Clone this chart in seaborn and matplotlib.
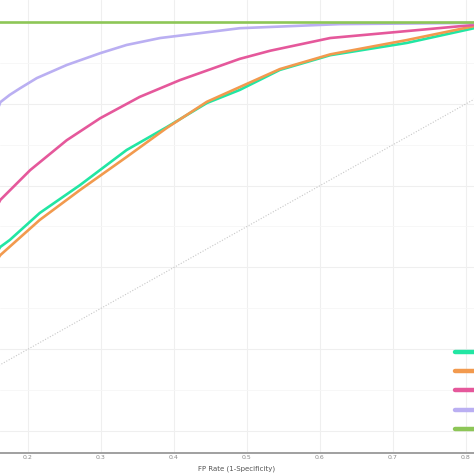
import matplotlib
matplotlib.use("Agg")
import numpy as np
import pandas as pd
import seaborn as sns
from matplotlib import pyplot as plt

# ROC curves (fpr, tpr)
model_names = ["Logistic Regression", "Naive Bayes", "Random Forest", "Gradient Boosting", "Perfect"]
colors = ["#22E6A3", "#F29A4E", "#E5589B", "#BAAFF2", "#8DC657"]

fpr_lr = [0.0, 0.162, 0.175, 0.216, 0.271, 0.335, 0.390, 0.445, 0.490, 0.545, 0.614, 0.719, 0.811, 1.0]
tpr_lr = [0.0, 0.450, 0.467, 0.533, 0.601, 0.687, 0.743, 0.802, 0.834, 0.883, 0.919, 0.949, 0.985, 1.0]

fpr_nb = [0.0, 0.162, 0.216, 0.271, 0.335, 0.390, 0.445, 0.490, 0.545, 0.614, 0.719, 0.811, 1.0]
tpr_nb = [0.0, 0.430, 0.516, 0.589, 0.670, 0.741, 0.805, 0.841, 0.885, 0.921, 0.956, 0.990, 1.0]

fpr_rf = [0.0, 0.162, 0.203, 0.253, 0.299, 0.353, 0.408, 0.490, 0.532, 0.614, 0.719, 0.811, 1.0]
tpr_rf = [0.0, 0.565, 0.638, 0.711, 0.765, 0.817, 0.858, 0.910, 0.930, 0.961, 0.978, 0.993, 1.0]

fpr_gb = [0.0, 0.162, 0.175, 0.189, 0.212, 0.253, 0.299, 0.335, 0.381, 0.436, 0.490, 0.627, 0.811, 1.0]
tpr_gb = [0.0, 0.804, 0.822, 0.838, 0.863, 0.895, 0.924, 0.944, 0.961, 0.973, 0.985, 0.995, 0.998, 1.0]

fpr_perfect = [0.0, 0.0, 1.0]
tpr_perfect = [0.0, 1.0, 1.0]

chance = [0.0, 1.0]

x_ticks = [0.2, 0.3, 0.4, 0.5, 0.6, 0.7, 0.8]

frames = []
for name, f, t in zip(model_names,
                      [fpr_lr, fpr_nb, fpr_rf, fpr_gb, fpr_perfect],
                      [tpr_lr, tpr_nb, tpr_rf, tpr_gb, tpr_perfect]):
    frames.append(pd.DataFrame({"fpr": f, "tpr": t, "model": name}))
df = pd.concat(frames, ignore_index=True)

sns.set_style("white")
fig = plt.figure(figsize=(4.74, 4.74), dpi=100)
ax = fig.add_axes([0, 21 / 474, 1, 453 / 474])

sns.lineplot(x=chance, y=chance, ax=ax, color="#c8c8c8", lw=0.8, linestyle=(0, (1, 1.5)), legend=False)
sns.lineplot(data=df, x="fpr", y="tpr", hue="model", hue_order=model_names,
             palette=colors, sort=False, estimator=None, lw=1.9, ax=ax)

ax.set_xlim(0.1616, 0.811)
ax.set_ylim(-0.054, 1.054)
ax.set_xticks(x_ticks)
ax.set_xticklabels([f"{v:.1f}" for v in x_ticks])
ax.set_yticks(np.arange(0, 1.01, 0.2))
ax.set_yticks(np.arange(0.1, 1.0, 0.2), minor=True)
ax.set_yticklabels([])
ax.grid(True, which="major", color="#efefef", lw=0.8)
ax.grid(True, which="minor", axis="y", color="#f6f6f6", lw=0.6)
ax.tick_params(axis="x", length=0, pad=1.5, labelsize=4.5, labelcolor="#8a8a8a")
ax.tick_params(axis="y", length=0)
for s in ["top", "left", "right"]:
    ax.spines[s].set_visible(False)
ax.spines["bottom"].set_color("#999999")
ax.spines["bottom"].set_linewidth(1.3)
ax.set_xlabel("FP Rate (1-Specificity)", fontsize=5, color="#555555", labelpad=4)
ax.set_ylabel("")

leg = ax.legend(loc="upper left", bbox_to_anchor=(455 / 474, 1 - 348 / 474),
                bbox_transform=fig.transFigure, frameon=False, fontsize=6,
                handlelength=3.2, handletextpad=1.5, labelspacing=1.22,
                borderpad=0, borderaxespad=0)
for line in leg.get_lines():
    line.set_linewidth(3.2)

fig.savefig("out.png", dpi=100)
